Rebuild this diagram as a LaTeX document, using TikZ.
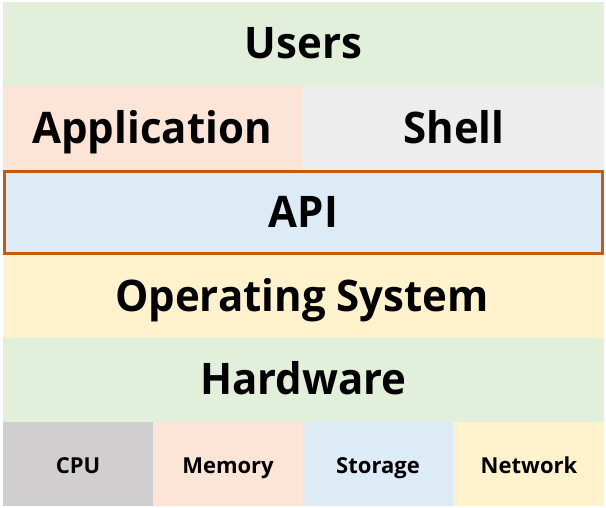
\documentclass[tikz,border=0pt]{standalone}
\usepackage{fontspec}
\setmainfont{Open Sans}[BoldFont={Open Sans Bold}]
\newfontfamily\bigfont{Open Sans Bold}[FakeStretch=0.965]
\newfontfamily\smallfont{Open Sans Bold}
\definecolor{cgreen}{HTML}{E2EFDA}
\definecolor{cpeach}{HTML}{FCE4D6}
\definecolor{cgray}{HTML}{EDEDED}
\definecolor{cblue}{HTML}{DDEBF7}
\definecolor{cyellow}{HTML}{FFF2CC}
\definecolor{cdgray}{HTML}{D0CECE}
\definecolor{corange}{HTML}{C55A11}
\tikzset{
  big/.style={font=\fontsize{43.5}{48}\bigfont, text=black, anchor=base, inner sep=0pt},
  small/.style={font=\fontsize{22}{26}\smallfont, text=black, anchor=base, inner sep=0pt},
}
\begin{document}
\begin{tikzpicture}[x=1pt,y=-1pt]
\useasboundingbox (0,0) rectangle (606,508);
\fill[white] (0,0) rectangle (606,508);
% cells
\fill[cgreen] (3,2) rectangle (604,86);
\fill[cpeach] (3,86) rectangle (302,170);
\fill[cgray] (302,86) rectangle (604,170);
\fill[cblue] (3,170) rectangle (604,255);
\fill[cyellow] (3,255) rectangle (604,338);
\fill[cgreen] (3,338) rectangle (604,422);
\fill[cdgray] (3,422) rectangle (153,506);
\fill[cpeach] (153,422) rectangle (303,506);
\fill[cblue] (303,422) rectangle (453,506);
\fill[cyellow] (453,422) rectangle (604,506);
\draw[corange, line width=3pt] (4.5,171.5) rectangle (602.5,253.5);
% labels
\node[big] (users) at (303.5,58.5) {Users};
\node[big] (app) at (152,143.5) {Application};
\node[big] (shell) at (454,143.5) {Shell};
\node[big] (api) at (303.5,228) {API};
\node[big] (os) at (302,311.5) {Operating System};
\node[big] (hw) at (303.5,394.5) {Hardware};
\node[small] (cpu) at (78,473) {CPU};
\node[small] (mem) at (228,473) {Memory};
\node[small] (sto) at (378,473) {Storage};
\node[small] (net) at (529,473) {Network};
\end{tikzpicture}
\end{document}
